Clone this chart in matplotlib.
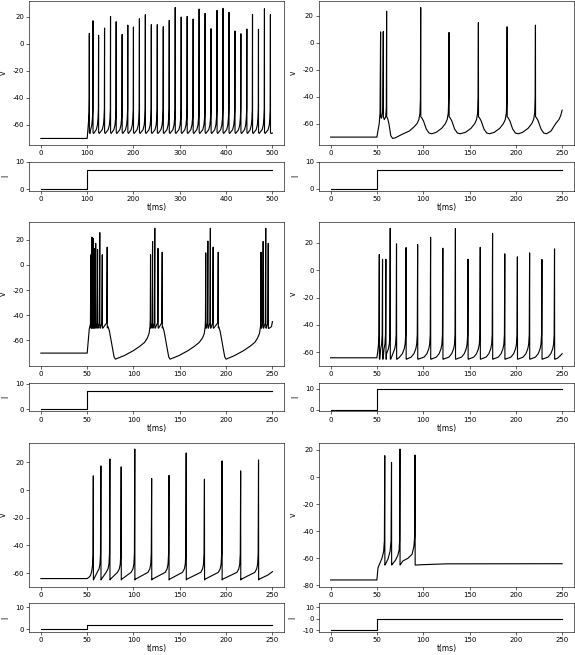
import numpy as np
import matplotlib
matplotlib.use("Agg")
import matplotlib.pyplot as plt

plt.rcParams['axes.unicode_minus'] = False
plt.rcParams['xtick.labelsize'] = 9.3
plt.rcParams['ytick.labelsize'] = 9.3

# ======================= data =======================
# ---- Panel 1 (top left) ----
p1_t_end = 500
p1_step_t = 100
p1_I = [0, 7]
p1_spike_t = [104.6, 112.5, 124.6, 137.5, 150.4, 162.6, 175.5, 187.7, 199.9, 212.8,
              225.6, 238.5, 251.4, 264.3, 277.2, 290.1, 303.0, 315.9, 328.8, 341.7,
              354.6, 367.5, 380.4, 393.3, 406.2, 419.1, 431.9, 444.8, 457.0, 469.9,
              482.8, 495.7]
p1_spike_v = [7.9, 17.2, 6.4, 11.8, 20.4, 16.5, 7.1, 14.0, 12.6, 18.7,
              21.7, 14.3, 14.3, 12.8, 17.5, 27.0, 20.0, 20.4, 18.5, 25.9,
              22.7, 11.3, 24.9, 26.4, 23.4, 9.6, 7.6, 11.1, 21.9, 10.8,
              26.1, 21.7]
p1_reset = -65.5
p1_post_dt = [1.5]
p1_post_v = [-66.3]
p1_pre_dt = [-5.0, -2.5, -1.2, -0.4]
p1_pre_v = [-63.5, -60.0, -55.0, -48.0]
p1_knot_t = [0, 100, 101.5, 103, 104, 104.4, 497, 500]
p1_knot_v = [-70, -70, -63, -57, -50, -40, -66.3, -66]
p1_Ilim = (-0.4, 10)

# ---- Panel 2 (top right) ----
p2_t_end = 250
p2_step_t = 50
p2_I = [0, 7]
p2_spike_t = [54.0, 56.9, 60.5, 97.3, 127.9, 159.6, 190.6, 221.2]
p2_spike_v = [8.1, 8.4, 23.5, 26.2, 7.7, 15.0, 11.9, 13.1]
p2_reset = -55
p2_post_dt = [1.0, 3.0, 6.0, 9.0, 12.0]
p2_post_v = [-55.5, -58.0, -64.0, -67.0, -67.5]
p2_pre_dt = [-14.0, -8.0, -4.0, -2.0, -0.8, -0.3]
p2_pre_v = [-66.5, -63.5, -60.0, -57.0, -52.0, -40.0]
p2_knot_t = [0, 50, 51, 52.5, 53.4,
             55.0, 56.4,
             58.0, 59.5, 60.2,
             61.5, 63, 65, 67, 70, 77, 85, 90, 93.3, 95.3, 96.5, 97.0,
             222.2, 224.2, 227.2, 230.2, 233.2, 238, 243, 246.5, 248.5, 250]
p2_knot_v = [-70, -70, -66, -60, -52,
             -56, -50,
             -57, -55, -48,
             -56, -60, -69, -71, -70.5, -68, -65.5, -62.5, -60, -57, -52, -42,
             -55.5, -58, -64, -67, -67.5, -65.5, -60, -57, -54, -50]
p2_Ilim = (-0.6, 10)

# ---- Panel 3 (middle left) ----
p3_t_end = 250
p3_step_t = 50
p3_I = [0, 7]
p3_spike_t = [54.0, 55.1, 56.4, 57.7, 59.2, 61.2, 63.6, 66.3, 71.6,
              118.4, 120.6, 123.0, 126.5, 131.0,
              178.0, 180.3, 183.0, 186.0, 191.5,
              237.7, 240.0, 242.8, 245.5]
p3_spike_v = [8, 22, 21, 13, 17, 12, 25.5, 8, 14,
              8, 18.5, 29, 13, 10,
              9.5, 18.8, 29, 14, 10,
              10, 18.5, 29, 17]
p3_reset = -50
p3_post_dt = [0.5]
p3_post_v = [-50.3]
p3_pre_dt = [-0.5]
p3_pre_v = [-46.0]
p3_knot_t = [0, 50, 52.3, 53.5,
             72.5, 74, 77, 79, 80.5, 90, 100, 107, 112, 115, 116.8, 117.8, 118.1,
             131.5, 133, 136, 138, 139.5, 149, 159, 166, 171, 174.5, 176.4, 177.4, 177.7,
             192.0, 193.5, 196.5, 198.5, 200, 209, 219, 226, 231, 234, 236, 237.1, 237.4,
             246, 249, 250]
p3_knot_v = [-70, -70, -50.5, -47,
             -49, -52.5, -65, -73, -74.8, -72, -68, -64.5, -61.5, -58, -54.5, -49, -44,
             -49, -52.5, -65, -73, -74.8, -72, -68, -64.5, -61.5, -58, -54.5, -49, -44,
             -49, -52.5, -65, -73, -74.8, -72, -68, -64.5, -61.5, -58, -54.5, -49, -44,
             -50.5, -49, -45]
p3_Ilim = (-0.8, 10.4)

# ---- Panel 4 (middle right) ----
p4_t_end = 250
p4_step_t = 50
p4_I = [0, 10]
p4_spike_t = [52.6, 56.1, 59.7, 64.4, 71.2, 81.5, 94.0, 108.0, 121.2, 134.8,
              148.4, 161.6, 174.9, 188.1, 201.7, 214.9, 228.2, 241.8]
p4_spike_v = [11.4, 8.0, 8.0, 30.6, 19.2, 16.5, 18.7, 24.0, 16.0, 30.3,
              8.0, 16.7, 26.9, 11.9, 9.7, 12.6, 7.8, 15.5]
p4_reset = -65
p4_post_dt = [0.6]
p4_post_v = [-65.0]
p4_pre_dt = [-7.0, -4.0, -2.0, -1.0, -0.4]
p4_pre_v = [-63.5, -61.0, -57.5, -54.0, -47.0]
p4_knot_t = [0, 50, 50.8, 51.6, 52.2, 242.5, 245, 248, 250]
p4_knot_v = [-64, -64, -60, -55, -48, -65, -64.3, -62.5, -61]
p4_Ilim = (-0.8, 12.9)

# ---- Panel 5 (bottom left) ----
p5_t_end = 250
p5_step_t = 50
p5_I = [0, 2]
p5_spike_t = [56.6, 64.8, 74.5, 86.7, 101.4, 119.6, 138.3, 156.9, 176.6, 195.6,
              215.7, 235.0]
p5_spike_v = [10.3, 17.5, 22.5, 16.8, 29.7, 8.4, 10.6, 26.9, 7.9, 21.1,
              13.9, 21.8]
p5_reset = -65
p5_post_dt = [0.5]
p5_post_v = [-64.5]
p5_pre_dt = [-4.0, -2.0, -1.0, -0.4]
p5_pre_v = [-59.5, -57.0, -53.5, -46.0]
p5_knot_t = [0, 50, 52, 53.5, 54.8, 55.8, 56.3, 235.5, 245, 250]
p5_knot_v = [-64, -64, -63, -61.8, -59, -54, -47, -64.5, -61.5, -59]
p5_Ilim = (-1.4, 11.9)

# ---- Panel 6 (bottom right) ----
p6_t_end = 250
p6_step_t = 50
p6_I = [-10, 0]
p6_spike_t = [58.5, 65.8, 74.9, 91.2]
p6_spike_v = [15.8, 10.8, 20.7, 16.3]
p6_reset = -65
p6_post_dt = []
p6_post_v = []
p6_pre_dt = []
p6_pre_v = []
p6_knot_t = [0, 50, 51.2, 53, 55.5, 57.3, 58.1,
             59.5, 62, 64.2, 65.3,
             67, 70, 72.5, 74, 74.5,
             75.5, 78, 83.5, 88, 90, 90.8,
             100, 125, 250]
p6_knot_v = [-76, -76, -67, -64, -60, -55, -47,
             -64, -60.5, -55, -47,
             -64, -61.5, -58, -54, -47,
             -64.5, -62, -60, -57, -51, -44,
             -64.7, -64.1, -64]
p6_Ilim = (-11.6, 13.3)


# ======================= trace assembly =======================
def build_trace(spike_t, spike_v, reset, post_dt, post_v, pre_dt, pre_v,
                knot_t, knot_v):
    bounds = [-np.inf] + list(spike_t) + [np.inf]
    knots = list(zip(knot_t, knot_v))
    ts, vs = [], []
    for k in range(len(bounds) - 1):
        a, b = bounds[k], bounds[k + 1]
        if k > 0:
            ts += [a, a + 0.12]
            vs += [spike_v[k - 1], reset]
        inside = [(t, v) for t, v in knots if a < t < b]
        if not inside:
            pre = []
            if np.isfinite(b):
                pre = [(b + d, v) for d, v in zip(pre_dt, pre_v) if b + d > a + 0.12]
            first_pre = pre[0][0] if pre else b
            post = []
            if np.isfinite(a):
                post = [(a + d, v) for d, v in zip(post_dt, post_v) if a + d < first_pre]
            inside = post + pre
        inside.sort()
        ts += [t for t, _ in inside]
        vs += [v for _, v in inside]
    return ts, vs


panels = [
    (p1_t_end, p1_step_t, p1_I, p1_spike_t, p1_spike_v, p1_reset, p1_post_dt, p1_post_v,
     p1_pre_dt, p1_pre_v, p1_knot_t, p1_knot_v, p1_Ilim),
    (p2_t_end, p2_step_t, p2_I, p2_spike_t, p2_spike_v, p2_reset, p2_post_dt, p2_post_v,
     p2_pre_dt, p2_pre_v, p2_knot_t, p2_knot_v, p2_Ilim),
    (p3_t_end, p3_step_t, p3_I, p3_spike_t, p3_spike_v, p3_reset, p3_post_dt, p3_post_v,
     p3_pre_dt, p3_pre_v, p3_knot_t, p3_knot_v, p3_Ilim),
    (p4_t_end, p4_step_t, p4_I, p4_spike_t, p4_spike_v, p4_reset, p4_post_dt, p4_post_v,
     p4_pre_dt, p4_pre_v, p4_knot_t, p4_knot_v, p4_Ilim),
    (p5_t_end, p5_step_t, p5_I, p5_spike_t, p5_spike_v, p5_reset, p5_post_dt, p5_post_v,
     p5_pre_dt, p5_pre_v, p5_knot_t, p5_knot_v, p5_Ilim),
    (p6_t_end, p6_step_t, p6_I, p6_spike_t, p6_spike_v, p6_reset, p6_post_dt, p6_post_v,
     p6_pre_dt, p6_pre_v, p6_knot_t, p6_knot_v, p6_Ilim),
]

# ======================= figure =======================
W, H = 575, 655
DPI = 54
fig = plt.figure(figsize=(W / DPI, H / DPI), dpi=DPI)

col_x = [29.3, 319.0]
ax_w = 254.7
row_top = [1.0, 221.7, 442.5]
v_h = 144.0
i_off = 160.8
i_h = 28.8


def rect(x0, top, w, h):
    return [x0 / W, 1 - (top + h) / H, w / W, h / H]


for idx, (t_end, step_t, I, st, sv, reset, pdt, pv, qdt, qv, kt, kv, Ilim) in enumerate(panels):
    r, c = divmod(idx, 2)
    axv = fig.add_axes(rect(col_x[c], row_top[r], ax_w, v_h))
    axi = fig.add_axes(rect(col_x[c], row_top[r] + i_off, ax_w, i_h))

    ts, vs = build_trace(st, sv, reset, pdt, pv, qdt, qv, kt, kv)
    axv.plot(ts, vs, color='black', lw=1.5)
    axv.set_ylabel('v', labelpad=6)

    It = [0, step_t, step_t, t_end]
    Iv = [I[0], I[0], I[1], I[1]]
    axi.plot(It, Iv, color='black', lw=1.5)
    axi.set_xlim(axv.get_xlim())
    axi.set_ylim(*Ilim)
    axi.set_ylabel('I', labelpad=6)
    axi.set_xlabel('t(ms)', labelpad=1.5)

fig.savefig('out.png', dpi=DPI)
